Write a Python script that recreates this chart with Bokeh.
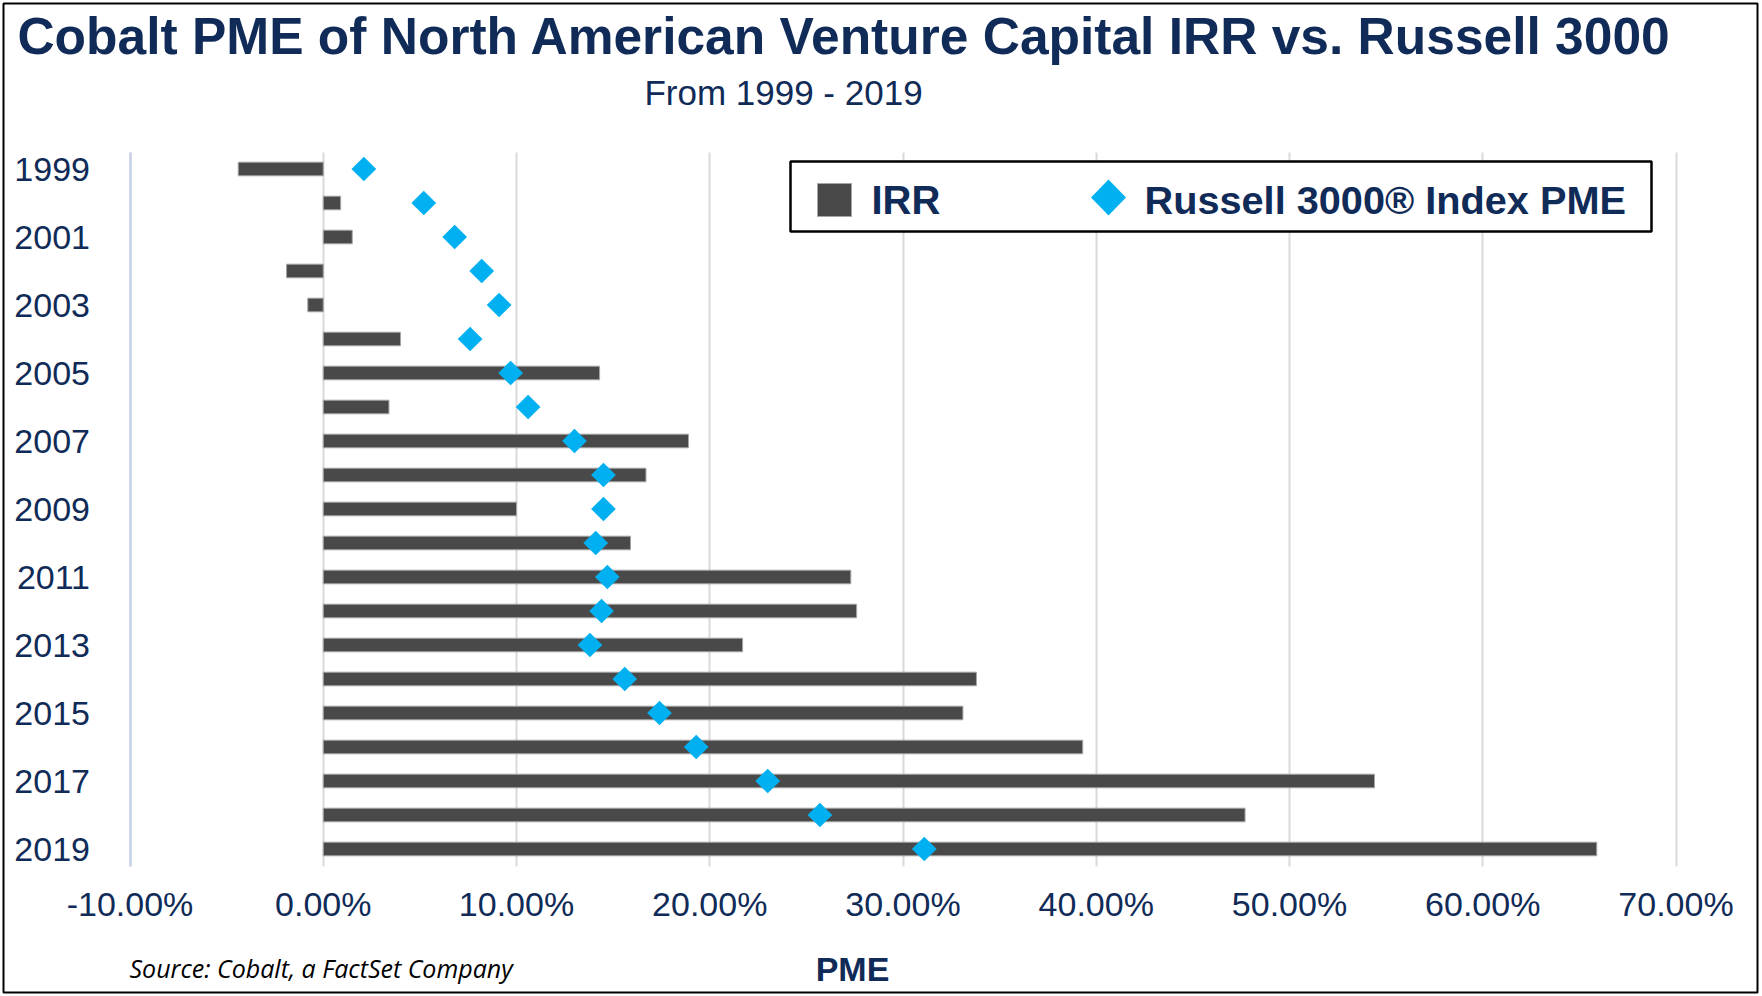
import numpy as np
from bokeh.plotting import figure
from bokeh.models import (Range1d, FixedTicker, PrintfTickFormatter, Label,
                          BoxAnnotation, PolyAnnotation)
from bokeh.embed import file_html
from bokeh.resources import INLINE

# ---------------- data ----------------
years = [1999, 2000, 2001, 2002, 2003, 2004, 2005, 2006, 2007, 2008, 2009,
         2010, 2011, 2012, 2013, 2014, 2015, 2016, 2017, 2018, 2019]
irr = [-4.4, 0.9, 1.5, -1.9, -0.8, 4.0, 14.3, 3.4, 18.9, 16.7, 10.0,
       15.9, 27.3, 27.6, 21.7, 33.8, 33.1, 39.3, 54.4, 47.7, 65.9]
pme = [2.1, 5.2, 6.8, 8.2, 9.1, 7.6, 9.7, 10.6, 13.0, 14.5, 14.5,
       14.1, 14.7, 14.4, 13.8, 15.6, 17.4, 19.3, 23.0, 25.7, 31.1]
year_ticks = [1999, 2001, 2003, 2005, 2007, 2009, 2011, 2013, 2015, 2017, 2019]
pct_ticks = [-10, 0, 10, 20, 30, 40, 50, 60, 70]

title_text = "Cobalt PME of North American Venture Capital IRR vs. Russell 3000"
subtitle_text = "From 1999 - 2019"
source_text = "Source: Cobalt, a FactSet Company"
xlabel_text = "PME"
series_names = ["IRR", "Russell 3000\u00ae Index PME"]

# ---------------- style / layout ----------------
NAVY = "#102b57"
BAR = "#494949"
BAR_EDGE = "#a6a6a6"
DIAMOND = "#00b0f0"
FONT = "Liberation Sans"
W, H = 1760, 994

# pixel box of the plotting region (the frame spans the whole canvas)
PX_L, PX_R = 129.5, 1675.5
PY_T, PY_B = 151.5, 865.5
x_lo, x_hi = pct_ticks[0], pct_ticks[-1]
y_top, y_bot = years[0] - 0.5, years[-1] + 0.5
kx = (PX_R - PX_L) / (x_hi - x_lo)
ky = (PY_B - PY_T) / (y_bot - y_top)
x_range = Range1d(x_lo - PX_L / kx, x_hi + (W - PX_R) / kx)
y_range = Range1d(y_bot + (H - PY_B) / ky, y_top - PY_T / ky)

p = figure(width=W, height=H, output_backend="svg", toolbar_location=None,
           title=None, x_range=x_range, y_range=y_range,
           min_border=0, min_border_left=0, min_border_right=0,
           min_border_top=0, min_border_bottom=0)
p.background_fill_color = "white"
p.border_fill_color = "white"
p.outline_line_color = None

p.hbar(y=years, left=0, right=irr, height=0.40,
       fill_color=BAR, line_color=BAR_EDGE, line_width=1)
p.scatter(x=pme, y=years, marker="square", angle=np.pi / 4, size=17.5,
          fill_color=DIAMOND, line_color=None)

# axes (placed inside the canvas at the edges of the plotting region)
xa = p.xaxis[0]
xa.fixed_location = y_bot
xa.bounds = (x_lo, x_hi)
xa.ticker = FixedTicker(ticks=pct_ticks)
xa.formatter = PrintfTickFormatter(format="%.2f%%")
xa.axis_line_color = None
xa.major_tick_line_color = None
xa.minor_tick_line_color = None
xa.major_label_text_font = FONT
xa.major_label_text_font_size = "34px"
xa.major_label_text_color = NAVY
xa.major_label_standoff = 13

ya = p.yaxis[0]
ya.fixed_location = x_lo
ya.bounds = (y_top, y_bot)
ya.ticker = FixedTicker(ticks=year_ticks)
ya.axis_line_color = "#c9d2ec"
ya.axis_line_width = 2.5
ya.major_tick_line_color = None
ya.minor_tick_line_color = None
ya.major_label_text_font = FONT
ya.major_label_text_font_size = "34px"
ya.major_label_text_color = NAVY
ya.major_label_standoff = 34

p.xgrid.ticker = FixedTicker(ticks=pct_ticks)
p.xgrid.bounds = (x_lo, x_hi)
p.xgrid.cross_bounds = (y_top, y_bot)
p.xgrid.grid_line_color = "#d9d9d9"
p.xgrid.grid_line_width = 2
p.ygrid.grid_line_color = None

def canvas_box(**kw):
    return BoxAnnotation(left_units="canvas", right_units="canvas",
                         top_units="canvas", bottom_units="canvas", **kw)

def canvas_label(**kw):
    return Label(x_units="canvas", y_units="canvas", **kw)

# outer border
p.add_layout(canvas_box(left=3, right=W - 3, top=3, bottom=H - 2,
                        fill_alpha=0, line_color="black", line_alpha=1, line_width=2))

# titles
p.add_layout(canvas_label(x=844, y=35, text=title_text, text_align="center",
                          text_baseline="alphabetic", text_font=FONT,
                          text_font_style="bold", text_font_size="51.5px", text_color=NAVY))
p.add_layout(canvas_label(x=783, y=92, text=subtitle_text, text_align="center",
                          text_baseline="alphabetic", text_font=FONT,
                          text_font_size="35px", text_color=NAVY))

# legend (manual)
p.add_layout(canvas_box(left=790, right=1651, top=161, bottom=231,
                        fill_color="white", fill_alpha=1,
                        line_color="black", line_alpha=1, line_width=2.5))
p.add_layout(canvas_box(left=817, right=851, top=183, bottom=216,
                        fill_color=BAR, fill_alpha=1,
                        line_color=BAR_EDGE, line_alpha=1, line_width=1))
cx, cy, rx, ry = 1108, 197, 17.5, 18
p.add_layout(PolyAnnotation(xs=[cx - rx, cx, cx + rx, cx], ys=[cy, cy - ry, cy, cy + ry],
                            xs_units="canvas", ys_units="canvas",
                            fill_color=DIAMOND, fill_alpha=1, line_color=None))
p.add_layout(canvas_label(x=871, y=199, text=series_names[0], text_align="left",
                          text_baseline="alphabetic", text_font=FONT,
                          text_font_style="bold", text_font_size="40px", text_color=NAVY))
p.add_layout(canvas_label(x=1144, y=199, text=series_names[1], text_align="left",
                          text_baseline="alphabetic", text_font=FONT,
                          text_font_style="bold", text_font_size="39.7px", text_color=NAVY))

# footer
p.add_layout(canvas_label(x=129, y=967, text=source_text, text_align="left",
                          text_baseline="alphabetic", text_font="Open Sans",
                          text_font_style="italic", text_font_size="25px",
                          text_color="black"))
p.add_layout(canvas_label(x=852, y=968, text=xlabel_text, text_align="center",
                          text_baseline="alphabetic", text_font=FONT,
                          text_font_style="bold", text_font_size="34px", text_color=NAVY))

open("out.html", "w").write(file_html(p, INLINE, title="Cobalt PME"))
